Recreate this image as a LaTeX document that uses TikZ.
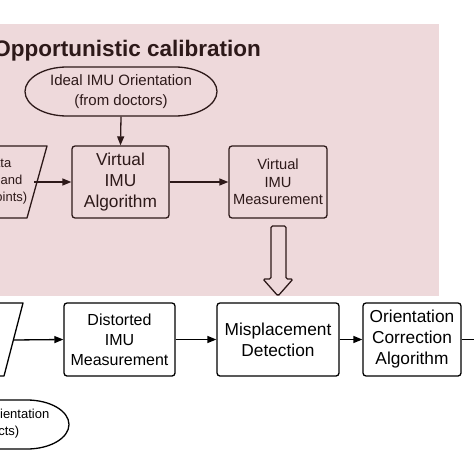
\documentclass[tikz,border=0pt]{standalone}
\usepackage{fontspec}
\setmainfont{Liberation Sans}
\usetikzlibrary{arrows.meta}
\definecolor{pinkbg}{RGB}{238,217,219}
\definecolor{ink}{RGB}{45,25,25}
\begin{document}
\begin{tikzpicture}[x=1pt,y=-1pt,
  box/.style={draw=ink, line width=1.3pt, rounded corners=3pt, align=center,
    inner sep=0pt, text=ink, fill=#1},
  box/.default=white,
  conn/.style={draw=ink, line width=1.3pt, -{Triangle[length=9pt,width=7pt]}},
  edge/.style={draw=ink, line width=1.3pt, line join=round},
  fbig/.style={font=\fontsize{17.3}{21}\selectfont},
  fmid/.style={font=\fontsize{16}{20}\selectfont},
  fsmall/.style={font=\fontsize{14.7}{17.5}\selectfont},
  flabel/.style={font=\fontsize{13}{17}\selectfont},
  plain/.style={inner sep=0pt, text=ink, align=center}]
\useasboundingbox (0,0) rectangle (474,474);
\clip (0,0) rectangle (474,474);
\fill[white] (0,0) rectangle (474,474);
% calibration region
\fill[pinkbg] (0,24) rectangle (439,296);
\node[plain, anchor=base east, font=\fontsize{22.5}{26}\selectfont\bfseries] (title) at (261,56) {Opportunistic calibration};
% ideal orientation terminator
\draw[edge] (67,67) -- (175,67) .. controls (198.2,67) and (217,78) .. (217,91.5)
  .. controls (217,105) and (198.2,116) .. (175,116) -- (67,116)
  .. controls (43.8,116) and (25,105) .. (25,91.5)
  .. controls (25,78) and (43.8,67) .. (67,67) -- cycle;
\node[plain, minimum width=192pt, minimum height=49pt, font=\fontsize{15}{20}\selectfont] (ideal) at (121,92) {Ideal IMU Orientation\\(from doctors)};
% input data parallelogram (top)
\draw[edge, fill=pinkbg] (-60,146) -- (47,146) -- (27,218) -- (-80,218) -- cycle;
\node[plain, flabel, align=right, anchor=east] (datatop) at (27.5,181) {Data\rule{16pt}{0pt}\\(Joints and\rule{5pt}{0pt}\\Key points)};
\coordinate (pin) at (34,182);
% boxes top
\node[box=pinkbg, fbig, minimum width=97pt, minimum height=72pt] (valg) at (120.5,182) {Virtual\\IMU\\Algorithm};
\node[box=pinkbg, fsmall, minimum width=98pt, minimum height=72pt] (vmeas) at (278,182) {Virtual\\IMU\\Measurement};
\draw[conn] (pin) -- (valg.west);
\draw[conn] (ideal.south) -- (valg.north);
\draw[conn] (valg.east) -- (vmeas.east -| vmeas.west);
% hollow block arrow
\draw[edge, fill=pinkbg, rounded corners=1.5pt] (271,226) -- (286,226) -- (286,279) -- (293,279) -- (278,296) -- (263,279) -- (271,279) -- cycle;
% bottom row
\draw[edge, draw=black] (-80,303) -- (23,303) -- (4,376) -- (-100,376) -- cycle;
\coordinate (pin2) at (14,340);
\node[box, fmid, text=black, draw=black, minimum width=111pt, minimum height=73pt] (dist) at (119.5,339.5) {Distorted\\IMU\\Measurement};
\node[box, fbig, text=black, draw=black, minimum width=122pt, minimum height=73pt] (misp) at (278,339.5) {Misplacement\\Detection};
\node[box, fbig, text=black, draw=black, minimum width=98pt, minimum height=73pt] (orient) at (412,339.5) {Orientation\\Correction\\Algorithm};
\coordinate (exitR) at (476,339.5);
\draw[conn, draw=black, fill=black] (pin2) -- (dist.west);
\draw[conn, draw=black, fill=black] (dist.east) -- (misp.west);
\draw[conn, draw=black, fill=black] (misp.east) -- (orient.west);
\draw[edge, draw=black] (orient.east) -- (exitR);
% bottom terminator
\draw[edge, draw=black] (-81,400) -- (27,400) .. controls (50.2,400) and (69,411) .. (69,424.5)
  .. controls (69,438) and (50.2,449) .. (27,449) -- (-81,449);
\node[plain, flabel, text=black, align=right, anchor=east] (realor) at (49.5,424) {Real IMU Orientation\\(from subjects)\rule{30pt}{0pt}};
\end{tikzpicture}
\end{document}
